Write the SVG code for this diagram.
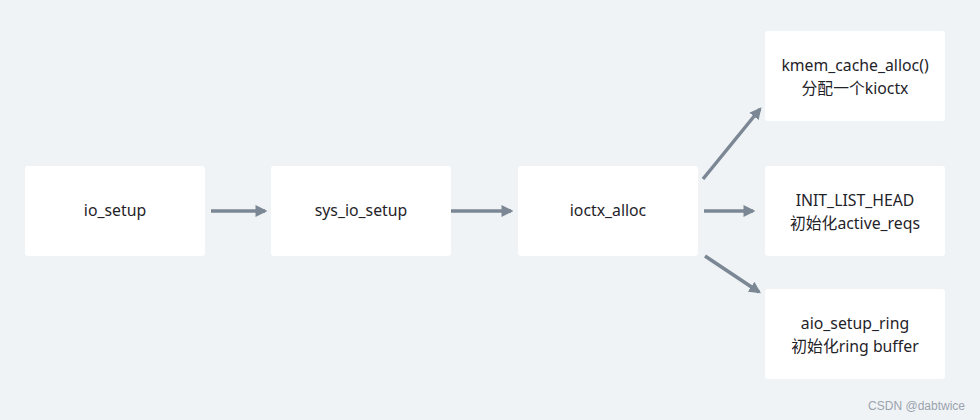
<svg xmlns="http://www.w3.org/2000/svg" width="980" height="420" viewBox="0 0 980 420">
<style>
.box{fill:#ffffff;}
.t{font-family:"Noto Sans","Noto Sans CJK SC",sans-serif;font-size:15.8px;fill:#1f2329;text-anchor:middle;}
.c{stroke:#7b8794;stroke-width:3.5;fill:none;marker-end:url(#ah);}
</style>
<defs>
<marker id="ah" viewBox="0 0 10 10" refX="8" refY="5" markerWidth="3.4" markerHeight="3.4" orient="auto" markerUnits="strokeWidth">
<path d="M0,0 L10,5 L0,10 z" fill="#7b8794"/>
</marker>
</defs>
<rect width="980" height="420" fill="#f0f3f6"/>
<g id="io_setup"><rect class="box" x="25" y="166" width="180" height="90" rx="3"/><text class="t" x="115" y="216">io_setup</text></g>
<g id="sys_io_setup"><rect class="box" x="271" y="166" width="180" height="90" rx="3"/><text class="t" x="361" y="216">sys_io_setup</text></g>
<g id="ioctx_alloc"><rect class="box" x="518" y="166" width="180" height="90" rx="3"/><text class="t" x="608" y="216">ioctx_alloc</text></g>
<g id="kmem"><rect class="box" x="765" y="31" width="180" height="90" rx="3"/><text class="t" x="855" y="71">kmem_cache_alloc()</text><text class="t" x="855" y="94">分配一个kioctx</text></g>
<g id="initlist"><rect class="box" x="765" y="166" width="180" height="90" rx="3"/><text class="t" x="855" y="206">INIT_LIST_HEAD</text><text class="t" x="855" y="229">初始化active_reqs</text></g>
<g id="aioring"><rect class="box" x="765" y="289" width="180" height="90" rx="3"/><text class="t" x="855" y="329">aio_setup_ring</text><text class="t" x="855" y="352">初始化ring buffer</text></g>
<g id="connectors">
<line class="c" x1="211" y1="211" x2="265" y2="211"/>
<line class="c" x1="451" y1="211" x2="511" y2="211"/>
<line class="c" x1="704" y1="211" x2="753" y2="211"/>
<line class="c" x1="703" y1="179" x2="760" y2="109"/>
<line class="c" x1="705" y1="256" x2="759" y2="292"/>
</g>
<text x="965" y="410" style="font-family:'Liberation Sans',sans-serif;font-size:12px;fill:#9aa3ad;text-anchor:end">CSDN @dabtwice</text>
</svg>
